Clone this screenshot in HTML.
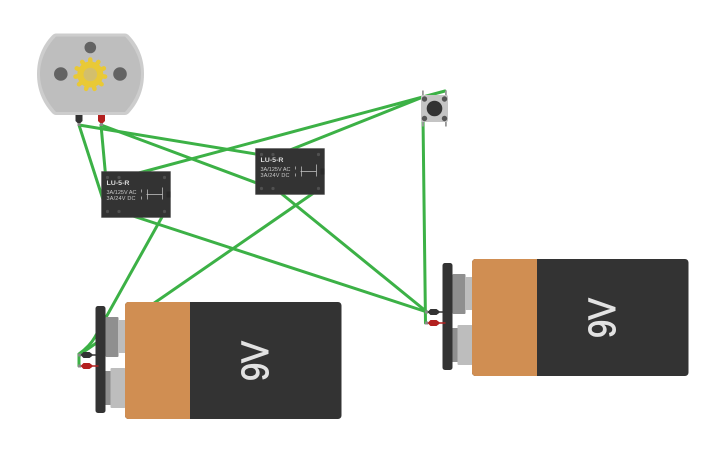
<!DOCTYPE html>
<html><head><meta charset="utf-8"><style>
html,body{margin:0;padding:0;background:#fff;width:725px;height:453px;overflow:hidden}
svg{display:block}
text{font-family:"Liberation Sans",sans-serif}
</style></head><body>
<svg width="725" height="453" viewBox="0 0 725 453" xmlns="http://www.w3.org/2000/svg">
<defs>
<g id="bat">
  <rect x="0" y="0" width="10" height="107" rx="2.500" fill="#333"/>
  <rect x="10" y="11" width="13" height="40" rx="1" fill="#8f8f8f"/>
  <rect x="22.500" y="14" width="7.500" height="33" fill="#bdbdbd"/>
  <rect x="10" y="65" width="5" height="34" fill="#8f8f8f"/>
  <rect x="15" y="62" width="15" height="40" rx="1" fill="#bdbdbd"/>
  <rect x="29.500" y="-4" width="216.500" height="117" rx="3.500" fill="#333"/>
  <path d="M94.500,-4H33a3.500,3.500 0 0 0 -3.500,3.500V109.500a3.500,3.500 0 0 0 3.500,3.500H94.500z" fill="#d08e52"/>
  <text transform="translate(172.500,55) rotate(-90)" text-anchor="middle" font-size="38" fill="#e2e2e2" stroke="#e2e2e2" stroke-width="1" textLength="40" lengthAdjust="spacingAndGlyphs">9V</text>
  <rect x="-17.500" y="47.500" width="3" height="3" fill="#8a8a8a"/>
  <path d="M-15,49 L-12,46 H-6 L-3,48.300 H3 V49.700 H-3 L-6,52 H-12z" fill="#333"/>
  <rect x="-17.500" y="58.500" width="3" height="3" fill="#8a8a8a"/>
  <path d="M-15,60 L-12,57 H-6 L-3,59.300 H3 V60.700 H-3 L-6,63 H-12z" fill="#b3201f"/>
</g>
<g id="rel">
  <rect x="0" y="0" width="69" height="46" fill="#333" stroke="#555" stroke-width="0.5"/>
  <g fill="#505050"><circle cx="6" cy="6" r="1.600"/><circle cx="17.500" cy="6" r="1.600"/><circle cx="63" cy="6" r="1.600"/><circle cx="6" cy="40" r="1.600"/><circle cx="17.500" cy="40" r="1.600"/><circle cx="63" cy="40" r="1.600"/></g>
  <rect x="65" y="20" width="4" height="6" fill="#2a2a2a"/>
  <text x="5" y="13.500" font-size="6.500" font-weight="bold" fill="#dcdcdc" textLength="23" lengthAdjust="spacingAndGlyphs">LU-5-R</text>
  <text x="5" y="22.300" font-size="5.500" fill="#c8c8c8" textLength="30">3A/125V AC</text>
  <text x="5" y="28.600" font-size="5.500" fill="#c8c8c8" textLength="29">3A/24V  DC</text>
  <path d="M40,18V21M46,18V28M45,23H61M61,16V28M40,25V28" stroke="#c8c8c8" stroke-width="0.7" fill="none"/>
</g>
</defs>

<!-- wires -->
<g stroke="#3cb146" stroke-width="3" fill="none" stroke-linecap="round">
<path d="M79,125L108,215"/>
<path d="M79,125L280,158"/>
<path d="M101,125L106,180"/>
<path d="M101,125L270,188"/>
<path d="M135,174L445,91"/>
<path d="M285,152L423,97"/>
<path d="M277,190L427,312"/>
<path d="M130,215L427,312"/>
<path d="M162,217L95,337Q90,346 79,354L79,366"/>
<path d="M315,192L79,355"/>
<path d="M423,118L425.500,323"/>
</g>

<!-- motor -->
<path d="M56,33.500H125Q127,33.500 129,35.500C139,46 144,59 144,74C144,89 139,102 129,113Q127,115 125,115H56Q54,115 52,113C42,102 37,89 37,74C37,59 42,46 52,35.500Q54,33.500 56,33.500z" fill="#cdcdcd"/>
<path d="M56,36.500H125C135,47 141,60 141,74C141,88 135,101 125,112H56C46,101 40,88 40,74C40,60 46,47 56,36.500z" fill="#bebebe"/>
<circle cx="90.300" cy="47.500" r="5.800" fill="#636363"/>
<circle cx="60.800" cy="74" r="6.800" fill="#636363"/>
<circle cx="120" cy="74" r="6.800" fill="#636363"/>
<g transform="translate(90.300,74.500)" stroke="#e9c936" stroke-width="4.500" stroke-linecap="round">
<circle r="13" fill="#e9c936" stroke="none"/>
<path d="M0,0L0,-15M0,0L8.100,-12.600M0,0L13.600,-6.200M0,0L14.800,2.100M0,0L11.300,9.800M0,0L4.200,14.400M0,0L-4.200,14.400M0,0L-11.300,9.800M0,0L-14.800,2.100M0,0L-13.600,-6.200M0,0L-8.100,-12.600"/>
<circle r="6.800" fill="#d3bf6c" stroke="none"/>
</g>
<path d="M75.500,115H82.500V121L80.500,123H77.500L75.500,121z" fill="#333"/>
<path d="M98,115H105V121L103,123H100L98,121z" fill="#b3201f"/>
<rect x="77.500" y="123" width="3" height="3" fill="#888"/>
<rect x="100" y="123" width="3" height="3" fill="#888"/>

<!-- batteries -->
<use href="#bat" x="95.500" y="306"/>
<use href="#bat" x="442.500" y="263"/>

<!-- relays -->
<use href="#rel" x="101.500" y="171.500"/>
<use href="#rel" x="255.500" y="148.500"/>

<!-- switch -->
<rect x="422" y="90.500" width="1.800" height="36" fill="#999"/>
<rect x="445" y="90.500" width="1.800" height="36" fill="#999"/>
<rect x="421" y="95" width="27" height="27" rx="2" fill="#c4c4c4"/>
<circle cx="434.500" cy="108.500" r="7.800" fill="#333"/>
<circle cx="424.500" cy="99" r="2.700" fill="#555"/>
<circle cx="444.500" cy="99" r="2.700" fill="#555"/>
<circle cx="424.500" cy="118.500" r="2.700" fill="#555"/>
<circle cx="444.500" cy="118.500" r="2.700" fill="#555"/>
</svg>
</body></html>
